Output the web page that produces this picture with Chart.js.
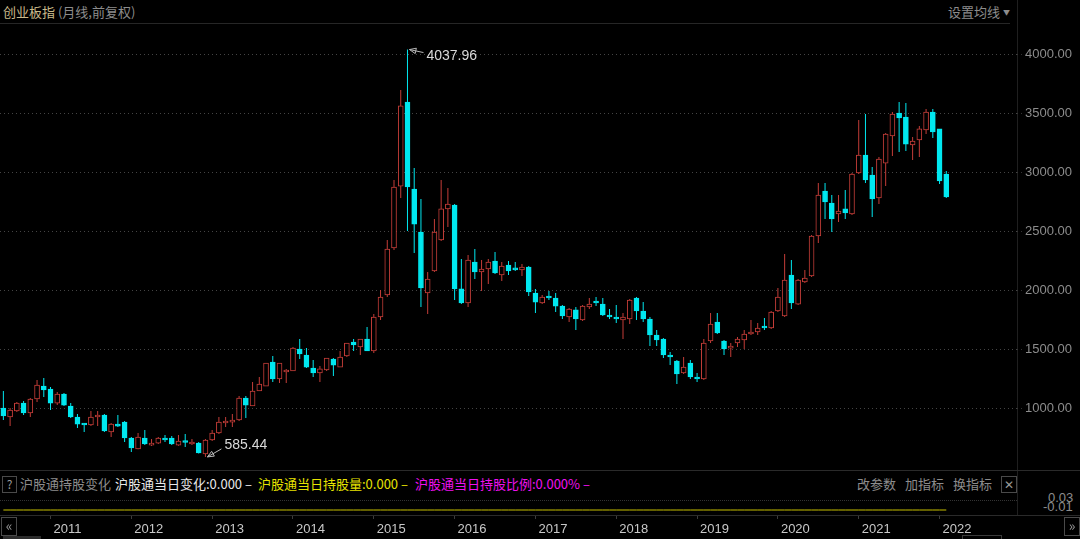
<!DOCTYPE html>
<html lang="zh-CN">
<head>
  <meta charset="UTF-8" />
  <title>创业板指 (月线,前复权)</title>

  <!-- Chart.js -->
  <script src="https://cdn.jsdelivr.net/npm/chart.js"></script>

  <style>
    body { margin: 0; width: 1080px; height: 539px; background: #000; overflow: hidden; position: relative;
           font-family: "Noto Sans CJK SC", "Liberation Sans", sans-serif; font-size: 13px; color: #8c8c8c; }
    .abs { position: absolute; white-space: nowrap; line-height: 16px; }
    canvas { position: absolute; left: 0; }
    .box { position: absolute; border: 1px solid #4a4a4a; color: #9a9a9a; text-align: center; line-height: 14px; font-size: 12px; }
  </style>
</head>
<body>

  <!-- Titre -->
  <div class="abs" style="left:0;top:0;width:1010px;height:23px;border-bottom:1px solid #262626;"></div>
  <div class="abs" style="left:3px;top:4px;"><span style="color:#cbbb8c">创业板指</span> <span style="color:#8c8c8c">(月线,前复权)</span></div>
  <div class="abs" style="left:948px;top:4px;color:#8c8c8c;">设置均线 <span style="font-size:7px;vertical-align:2px;">▼</span></div>

  <!-- séparateurs -->
  <div class="abs" style="left:1017px;top:0;width:1px;height:515px;background:#1f1f1f;"></div>
  <div class="abs" style="left:0;top:470px;width:1080px;height:1px;background:#2a2a2a;"></div>
  <div class="abs" style="left:0;top:515px;width:1080px;height:1px;background:#2a2a2a;"></div>
  <div class="abs" style="left:0;top:500px;width:1017px;height:0;border-top:1px dotted #333;"></div>

  <!-- K线 -->
  <canvas id="kline" width="1080" height="445" style="top:25px;"></canvas>

  <!-- Indicateur -->
  <div class="box" style="left:2px;top:476px;width:13px;height:15px;">?</div>
  <div class="abs" style="left:20px;top:476px;color:#8c8c8c;">沪股通持股变化</div>
  <div class="abs" style="left:115px;top:476px;color:#e8e8e8;">沪股通当日变化:0.000 –</div>
  <div class="abs" style="left:258px;top:476px;color:#e6e200;">沪股通当日持股量:0.000 –</div>
  <div class="abs" style="left:415px;top:476px;color:#ee10ee;">沪股通当日持股比例:0.000% –</div>
  <div class="abs" style="left:857px;top:476px;color:#8c8c8c;">改参数</div>
  <div class="abs" style="left:905px;top:476px;color:#8c8c8c;">加指标</div>
  <div class="abs" style="left:953px;top:476px;color:#8c8c8c;">换指标</div>
  <div class="box" style="left:1001px;top:476px;width:14px;height:15px;">✕</div>
  <div class="abs" style="left:1048px;top:490px;color:#8c8c8c;font-family:'Liberation Sans';">0.03</div>
  <div class="abs" style="left:1043px;top:499px;color:#8c8c8c;font-family:'Liberation Sans';">-0.01</div>
  <canvas id="hgt" width="1080" height="23" style="top:492px;"></canvas>

  <!-- Axe des années -->
  <canvas id="years" width="1080" height="23" style="top:516px;"></canvas>
  <div class="box" style="left:1px;top:517px;width:14px;height:17px;font-size:14px;">«</div>
  <div class="box" style="left:1064px;top:517px;width:14px;height:17px;font-size:14px;">»</div>
  <div class="abs" style="left:3px;top:536px;width:38px;height:3px;background:#2c2c2c;"></div>
  <div class="abs" style="left:962px;top:535px;width:38px;height:4px;border:1px solid #3a3a3a;border-bottom:0;"></div>

  <script>
    // 创业板指 月K线, 2010-06 起
    const startYear = 2010, startMonth = 6;

    const open = [
      1000, 924, 975, 1042, 958, 1076, 1186, 1161, 1042, 1119,
      1017, 924, 864, 856, 924, 941, 797, 864, 881, 746,
      653, 746, 686, 703, 737, 746, 686, 712, 695, 703,
      610, 729, 788, 873, 881, 898, 1085, 1017, 1144, 1186,
      1390, 1246, 1305, 1314, 1500, 1449, 1339, 1297, 1322, 1415,
      1347, 1441, 1559, 1517, 1585, 1483, 1771, 1958, 2356, 2881,
      3593, 2856, 2492, 1975, 2161, 2424, 2687, 2720, 2009, 1890,
      2237, 2153, 2178, 2246, 2127, 2212, 2187, 2170, 2195, 1975,
      1890, 1941, 1932, 1864, 1771, 1831, 1746, 1856, 1907, 1881,
      1788, 1771, 1746, 1754, 1932, 1822, 1754, 1619, 1585, 1449,
      1398, 1297, 1381, 1263, 1246, 1568, 1729, 1568, 1508, 1551,
      1576, 1627, 1644, 1686, 1678, 1822, 1780, 2127, 1881, 2068,
      2119, 2458, 2839, 2737, 2644, 2687, 2644, 2992, 3144, 2975,
      2780, 3076, 3305, 3500, 3466, 3229, 3271, 3356, 3509, 3365, 2983
    ];
    const high = [
      1144, 1000, 1051, 1059, 1085, 1237, 1254, 1178, 1136, 1127,
      1042, 949, 873, 975, 975, 949, 873, 941, 890, 754,
      788, 814, 737, 754, 771, 763, 771, 780, 737, 712,
      737, 814, 924, 924, 949, 1102, 1102, 1220, 1263, 1381,
      1441, 1381, 1331, 1517, 1585, 1508, 1407, 1356, 1424, 1424,
      1483, 1551, 1585, 1585, 1686, 1797, 2000, 2424, 2932, 3695,
      4037.96, 3034, 2771, 2153, 2602, 2932, 2864, 2729, 2263, 2297,
      2347, 2254, 2263, 2322, 2237, 2246, 2237, 2220, 2203, 2009,
      1958, 1992, 1975, 1873, 1848, 1856, 1873, 1932, 1941, 1932,
      1839, 1873, 1805, 1924, 1941, 1898, 1771, 1661, 1593, 1475,
      1407, 1432, 1407, 1297, 1585, 1805, 1805, 1576, 1551, 1602,
      1661, 1746, 1720, 1763, 1822, 2017, 2305, 2254, 2093, 2170,
      2466, 2907, 2907, 2805, 2805, 2848, 2992, 3441, 3492, 3042,
      3127, 3331, 3509, 3593, 3585, 3297, 3390, 3534, 3534, 3365, 3009
    ];
    const low = [
      898, 847, 966, 941, 924, 1051, 1093, 983, 1025, 1017,
      915, 831, 797, 847, 847, 797, 754, 839, 712, 627,
      650, 686, 678, 695, 712, 686, 680, 669, 686, 615,
      585.44, 720, 780, 839, 839, 890, 915, 1017, 1144, 1186,
      1220, 1212, 1212, 1314, 1415, 1339, 1263, 1220, 1314, 1271,
      1347, 1432, 1483, 1449, 1483, 1466, 1746, 1941, 2339, 2780,
      2500, 2314, 1856, 1797, 2153, 2415, 2534, 1915, 1881, 1856,
      2093, 1992, 2051, 2136, 2076, 2127, 2161, 2119, 1949, 1805,
      1881, 1915, 1814, 1754, 1729, 1661, 1737, 1839, 1864, 1780,
      1754, 1720, 1585, 1712, 1746, 1729, 1525, 1525, 1424, 1364,
      1203, 1288, 1246, 1220, 1237, 1551, 1627, 1449, 1432, 1517,
      1500, 1619, 1619, 1661, 1670, 1814, 1771, 1839, 1873, 2059,
      2110, 2398, 2602, 2492, 2576, 2602, 2636, 2983, 2907, 2619,
      2729, 2881, 3136, 3170, 3178, 3102, 3127, 3322, 3288, 2898, 2780
    ];
    const close = [
      932, 983, 1042, 958, 1076, 1195, 1153, 1042, 1119, 1025,
      924, 864, 856, 924, 941, 805, 864, 847, 746, 661,
      754, 695, 695, 746, 729, 695, 720, 708, 703, 619,
      729, 788, 881, 881, 898, 1085, 1025, 1144, 1203, 1381,
      1246, 1381, 1322, 1508, 1458, 1347, 1297, 1331, 1424, 1364,
      1432, 1551, 1534, 1585, 1483, 1771, 1941, 2347, 2873, 3560,
      2873, 2559, 2017, 2093, 2492, 2687, 2729, 2009, 1890, 2254,
      2153, 2178, 2237, 2144, 2203, 2161, 2170, 2195, 1983, 1898,
      1941, 1932, 1864, 1780, 1839, 1754, 1864, 1881, 1890, 1788,
      1771, 1754, 1771, 1915, 1822, 1754, 1619, 1576, 1449, 1432,
      1288, 1347, 1263, 1246, 1551, 1712, 1636, 1500, 1525, 1585,
      1627, 1644, 1678, 1678, 1814, 1941, 2085, 1890, 2085, 2102,
      2458, 2805, 2746, 2602, 2670, 2653, 2983, 3144, 2932, 2771,
      3110, 3322, 3492, 3458, 3237, 3263, 3365, 3509, 3339, 2924, 2788
    ];

    // 沪股通持股变化: 全部 0.000
    const hgtChange = [
      0,0,0,0,0,0,0,0,0,0,0,0,0,0,0,0,0,0,0,0,
      0,0,0,0,0,0,0,0,0,0,0,0,0,0,0,0,0,0,0,0,
      0,0,0,0,0,0,0,0,0,0,0,0,0,0,0,0,0,0,0,0,
      0,0,0,0,0,0,0,0,0,0,0,0,0,0,0,0,0,0,0,0,
      0,0,0,0,0,0,0,0,0,0,0,0,0,0,0,0,0,0,0,0,
      0,0,0,0,0,0,0,0,0,0,0,0,0,0,0,0,0,0,0,0,
      0,0,0,0,0,0,0,0,0,0,0,0,0,0,0,0,0,0,0,0,0
    ];

    const yearLabels = ['2011', '2012', '2013', '2014', '2015', '2016', '2017', '2018', '2019', '2020', '2021', '2022'];
    const priceTicks = [1000, 1500, 2000, 2500, 3000, 3500, 4000];

    // la fenêtre montre 151 mois, les 10 derniers sont vides
    const slots = 151;
    const xRange = { type: 'linear', min: -0.5, max: slots - 0.5, offset: false };

    const RED = '#c43d38', CYAN = '#00e8f0';
    const isUp = open.map((o, i) => close[i] >= o);
    const candleColor = isUp.map(u => u ? RED : CYAN);
    const bodyFill = isUp.map(u => u ? '#000000' : CYAN);

    const bodies = open.map((o, i) => ({ x: i, y: [Math.min(o, close[i]), Math.max(o, close[i])] }));
    const wicks = low.map((l, i) => ({ x: i, y: [l, high[i]] }));

    Chart.defaults.font.family = '"Liberation Sans", "Noto Sans CJK SC", sans-serif';
    Chart.defaults.font.size = 13;
    Chart.defaults.color = '#8c8c8c';

    // étiquettes du plus haut / plus bas avec flèche
    const extremaTags = {
      id: 'extremaTags',
      afterDatasetsDraw(chart) {
        const { ctx, scales } = chart;
        const top = Math.max(...high), bottom = Math.min(...low);
        const marks = [
          { i: high.indexOf(top), v: top, dy: 3, ty: 4 },
          { i: low.indexOf(bottom), v: bottom, dy: -8, ty: -4 }
        ];
        ctx.save();
        ctx.font = '14px "Liberation Sans", Arial, sans-serif';
        ctx.textBaseline = 'middle';
        ctx.strokeStyle = '#b8b8b8';
        ctx.fillStyle = '#d9d9d9';
        ctx.lineWidth = 1;
        marks.forEach(m => {
          const px = scales.x.getPixelForValue(m.i) + 2;
          const py = scales.y.getPixelForValue(m.v);
          const ex = px + 14, ey = py + m.dy;
          ctx.beginPath(); ctx.moveTo(px, py); ctx.lineTo(ex, ey); ctx.stroke();
          const a = Math.atan2(ey - py, ex - px);
          ctx.beginPath();
          ctx.moveTo(px, py);
          ctx.lineTo(px + 7 * Math.cos(a - 0.4), py + 7 * Math.sin(a - 0.4));
          ctx.lineTo(px + 7 * Math.cos(a + 0.4), py + 7 * Math.sin(a + 0.4));
          ctx.closePath(); ctx.stroke();
          ctx.fillText(m.v.toFixed(2), ex + 3, ey + m.ty);
        });
        ctx.restore();
      }
    };

    // Graphique K线
    new Chart(document.getElementById('kline'), {
      type: 'bar',
      data: {
        datasets: [
          { label: '实体', data: bodies, backgroundColor: bodyFill, borderColor: candleColor, borderWidth: 1,
            borderSkipped: false, barThickness: 5, minBarLength: 2, grouped: false, order: 0 },
          { label: '影线', data: wicks, backgroundColor: candleColor, borderWidth: 0, inflateAmount: 0,
            barThickness: 1, grouped: false, order: 1 }
        ]
      },
      options: {
        responsive: false,
        animation: false,
        devicePixelRatio: 1,
        layout: { padding: 0 },
        plugins: { legend: { display: false }, tooltip: { enabled: false } },
        scales: {
          x: { ...xRange, display: false },
          y: {
            position: 'right',
            min: 474.6,
            max: 4246,
            afterBuildTicks: axis => { axis.ticks = priceTicks.map(v => ({ value: v })); },
            afterFit: axis => { axis.width = 63; axis.paddingTop = 0; axis.paddingBottom = 0; },
            ticks: { padding: 3, color: '#8c8c8c', callback: v => v.toFixed(2) },
            grid: { color: '#444', tickLength: 5, tickColor: '#333', tickBorderDash: [1, 3] },
            border: { display: false, dash: [1, 3] }
          }
        }
      },
      plugins: [extremaTags]
    });

    // Ligne 沪股通
    new Chart(document.getElementById('hgt'), {
      type: 'line',
      data: {
        datasets: [{ label: '沪股通当日变化', data: hgtChange.map((v, i) => ({ x: i, y: v })),
          borderColor: '#c8c000', borderWidth: 1, pointRadius: 0 }]
      },
      options: {
        responsive: false, animation: false, devicePixelRatio: 1,
        layout: { padding: { left: 0, right: 63, top: 0, bottom: 0 } },
        plugins: { legend: { display: false }, tooltip: { enabled: false } },
        scales: {
          x: { ...xRange, display: false },
          y: { min: -0.01, max: 0.036, display: false }
        }
      }
    });

    // Axe des années
    new Chart(document.getElementById('years'), {
      type: 'line',
      data: { datasets: [] },
      options: {
        responsive: false, animation: false, devicePixelRatio: 1,
        layout: { padding: { left: 0, right: 63, top: 0, bottom: 0 } },
        plugins: { legend: { display: false }, tooltip: { enabled: false } },
        scales: {
          x: {
            ...xRange,
            afterBuildTicks: axis => {
              axis.ticks = yearLabels.map(y => ({ value: (Number(y) - startYear) * 12 + 1 - startMonth }));
            },
            afterFit: axis => { axis.height = 20; axis.paddingLeft = 0; axis.paddingRight = 0; },
            ticks: { autoSkip: false, maxRotation: 0, align: 'start', labelOffset: 3, padding: 3, color: '#c8c8c8',
              callback: (v, i) => yearLabels[i] },
            grid: { color: '#3c3c3c', drawTicks: false },
            border: { display: false }
          },
          y: { display: false }
        }
      }
    });
  </script>
</body>
</html>
